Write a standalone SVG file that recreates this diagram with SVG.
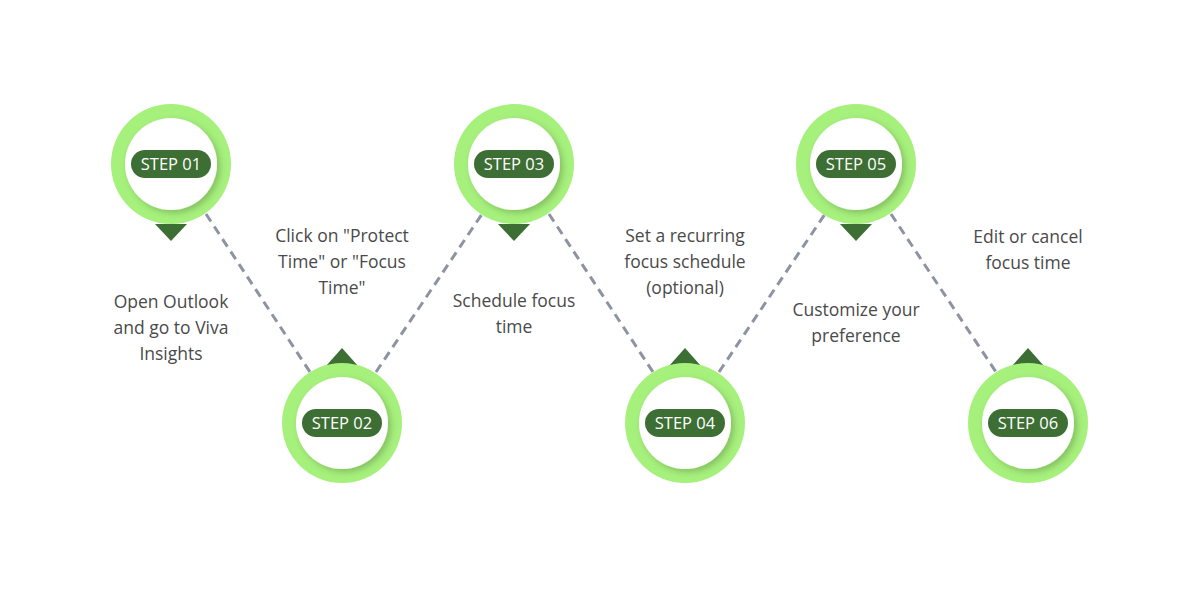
<svg xmlns="http://www.w3.org/2000/svg" width="1200" height="600" viewBox="0 0 1200 600">
<defs>
<style>
.ring{fill:#a6f07c}
.inner{fill:#fff}
.pill{fill:#3d6e34}
.pt{font-family:"Open Sans",Roboto,"Liberation Sans",sans-serif;font-size:16.5px;fill:#fff;text-anchor:middle}
.lbl{font-family:"Open Sans",Roboto,"Liberation Sans",sans-serif;font-size:17.5px;fill:#4a4a4a;text-anchor:middle}
.tri{fill:#3d6e34}
.con{stroke:#8e93a3;stroke-width:3;stroke-dasharray:9 6;fill:none}
</style>
<filter id="sh" x="-30%" y="-30%" width="160%" height="160%"><feDropShadow dx="3" dy="3" stdDeviation="3" flood-color="#000" flood-opacity="0.2"/></filter>
</defs>
<rect width="1200" height="600" fill="#fff"/>
<g id="connectors">
<line class="con" x1="206" y1="214" x2="310" y2="372"/>
<line class="con" x1="376" y1="372" x2="482" y2="214"/>
<line class="con" x1="549" y1="214" x2="653" y2="372"/>
<line class="con" x1="719" y1="372" x2="825" y2="214"/>
<line class="con" x1="891" y1="214" x2="996" y2="372"/>
</g>
<g id="step1"><polygon class="tri" points="155,224 187,224 171,241"/><circle class="ring" cx="171" cy="164" r="60"/><circle class="inner" cx="171" cy="164" r="46" filter="url(#sh)"/><rect class="pill" x="131" y="150" width="80" height="28" rx="14"/><text class="pt" x="171" y="170">STEP 01</text></g>
<g id="step2"><polygon class="tri" points="326,366 358,366 342,348"/><circle class="ring" cx="342" cy="423" r="60"/><circle class="inner" cx="342" cy="423" r="46" filter="url(#sh)"/><rect class="pill" x="302" y="409" width="80" height="28" rx="14"/><text class="pt" x="342" y="429">STEP 02</text></g>
<g id="step3"><polygon class="tri" points="498,224 530,224 514,241"/><circle class="ring" cx="514" cy="164" r="60"/><circle class="inner" cx="514" cy="164" r="46" filter="url(#sh)"/><rect class="pill" x="474" y="150" width="80" height="28" rx="14"/><text class="pt" x="514" y="170">STEP 03</text></g>
<g id="step4"><polygon class="tri" points="669,366 701,366 685,348"/><circle class="ring" cx="685" cy="423" r="60"/><circle class="inner" cx="685" cy="423" r="46" filter="url(#sh)"/><rect class="pill" x="645" y="409" width="80" height="28" rx="14"/><text class="pt" x="685" y="429">STEP 04</text></g>
<g id="step5"><polygon class="tri" points="840,224 872,224 856,241"/><circle class="ring" cx="856" cy="164" r="60"/><circle class="inner" cx="856" cy="164" r="46" filter="url(#sh)"/><rect class="pill" x="816" y="150" width="80" height="28" rx="14"/><text class="pt" x="856" y="170">STEP 05</text></g>
<g id="step6"><polygon class="tri" points="1012,366 1044,366 1028,348"/><circle class="ring" cx="1028" cy="423" r="60"/><circle class="inner" cx="1028" cy="423" r="46" filter="url(#sh)"/><rect class="pill" x="988" y="409" width="80" height="28" rx="14"/><text class="pt" x="1028" y="429">STEP 06</text></g>
<g id="labels">
<text class="lbl" x="171" y="308">Open Outlook</text><text class="lbl" x="171" y="334">and go to Viva</text><text class="lbl" x="171" y="360">Insights</text>
<text class="lbl" x="342" y="242">Click on "Protect</text><text class="lbl" x="342" y="268">Time" or "Focus</text><text class="lbl" x="342" y="294">Time"</text>
<text class="lbl" x="514" y="307">Schedule focus</text><text class="lbl" x="514" y="333">time</text>
<text class="lbl" x="685" y="242">Set a recurring</text><text class="lbl" x="685" y="268">focus schedule</text><text class="lbl" x="685" y="294">(optional)</text>
<text class="lbl" x="856" y="316">Customize your</text><text class="lbl" x="856" y="342">preference</text>
<text class="lbl" x="1028" y="243">Edit or cancel</text><text class="lbl" x="1028" y="269">focus time</text>
</g>
</svg>
